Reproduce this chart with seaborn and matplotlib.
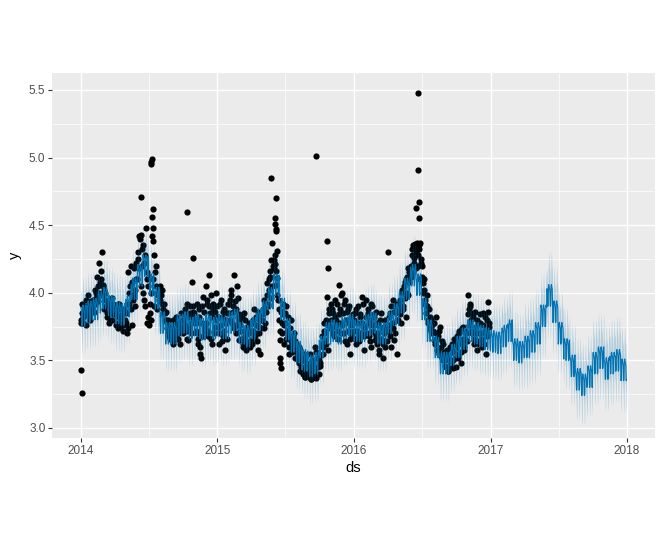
import numpy as np
import pandas as pd
import matplotlib
matplotlib.use("Agg")
import matplotlib.pyplot as plt
import matplotlib.dates as mdates
from matplotlib.ticker import MultipleLocator, FixedLocator
import seaborn as sns

# ---------------- data ----------------
obs_month_starts = pd.date_range("2014-01-01", "2016-12-01", freq="MS")
obs_day_offsets_a = [0, 3, 6, 9, 12, 15, 18, 21, 24, 27]
obs_day_offsets_b = [1, 4, 7, 10, 13, 16, 19, 22, 25, 28]
obs_values_a = [
    [3.80, 3.85, 3.78, 3.90, 3.84, 3.95, 3.88, 3.82, 3.92, 3.86],  # 2014-01
    [3.88, 3.95, 3.92, 4.00, 3.98, 4.05, 4.22, 4.08, 4.10, 4.30],
    [4.05, 4.02, 3.95, 3.90, 3.85, 3.92, 3.80, 3.88, 3.96, 3.84],
    [3.90, 3.85, 3.78, 3.92, 3.82, 3.75, 3.88, 3.80, 3.76, 3.86],
    [3.85, 3.70, 4.15, 3.92, 4.05, 4.20, 3.76, 3.95, 4.02, 4.10],
    [4.10, 4.25, 4.42, 4.43, 4.20, 4.35, 3.95, 4.28, 4.48, 4.10],
    [4.05, 3.92, 3.80, 4.56, 4.62, 4.28, 4.15, 4.05, 4.00, 3.95],
    [4.05, 3.98, 3.92, 3.88, 3.85, 3.80, 3.78, 3.72, 3.70, 3.66],
    [3.68, 3.62, 3.75, 3.70, 3.82, 3.72, 3.66, 3.78, 3.85, 3.74],
    [3.80, 3.75, 3.88, 3.72, 3.92, 3.65, 3.85, 3.78, 4.08, 3.90],
    [3.85, 3.78, 3.70, 3.62, 3.88, 3.55, 3.52, 3.90, 3.97, 3.75],
    [4.05, 3.92, 3.68, 4.13, 3.85, 3.98, 3.62, 3.88, 3.75, 4.00],
    [3.90, 3.75, 3.62, 3.95, 3.82, 3.68, 3.88, 3.58, 3.78, 3.85],  # 2015-01
    [3.85, 3.95, 4.02, 3.78, 3.90, 4.13, 3.70, 4.05, 3.82, 3.65],
    [3.80, 3.72, 3.65, 3.60, 3.85, 3.68, 3.58, 3.75, 3.62, 3.70],
    [3.65, 3.78, 3.72, 3.88, 3.68, 3.82, 3.58, 3.75, 3.55, 3.85],
    [3.80, 3.88, 3.95, 3.78, 4.07, 3.92, 4.10, 4.16, 4.24, 4.05],
    [4.24, 4.21, 4.16, 4.11, 3.95, 3.80, 3.65, 3.78, 3.92, 3.62],
    [3.85, 3.90, 3.72, 3.68, 3.55, 3.80, 3.62, 3.58, 3.70, 3.52],
    [3.62, 3.55, 3.48, 3.58, 3.45, 3.52, 3.40, 3.55, 3.38, 3.46],
    [3.42, 3.38, 3.55, 3.36, 3.48, 3.40, 3.60, 3.37, 3.52, 3.45],
    [3.40, 3.48, 3.62, 3.55, 3.72, 3.65, 3.80, 3.97, 3.58, 3.85],
    [3.92, 3.75, 3.85, 3.68, 3.95, 3.80, 3.72, 4.06, 3.88, 3.70],
    [4.00, 3.85, 3.70, 3.95, 3.62, 3.88, 3.78, 3.55, 3.82, 3.68],
    [3.72, 3.85, 3.62, 3.78, 3.90, 3.68, 3.82, 3.97, 3.75, 3.58],  # 2016-01
    [3.75, 3.95, 3.85, 3.68, 3.80, 3.60, 3.90, 3.72, 3.82, 3.65],
    [3.78, 3.62, 3.70, 3.55, 3.85, 3.65, 3.52, 3.75, 3.60, 3.72],
    [4.30, 3.72, 3.85, 3.60, 3.78, 3.95, 3.65, 3.88, 3.55, 3.80],
    [3.85, 3.95, 3.78, 4.02, 3.90, 4.08, 3.82, 4.12, 3.98, 4.15],
    [4.12, 4.28, 4.35, 4.22, 4.36, 4.30, 4.37, 4.20, 4.35, 4.25],
    [4.20, 4.07, 4.02, 3.95, 3.85, 3.90, 3.78, 3.82, 3.72, 3.76],
    [3.72, 3.65, 3.82, 3.58, 3.68, 3.55, 3.75, 3.60, 3.52, 3.62],
    [3.50, 3.45, 3.58, 3.42, 3.55, 3.48, 3.62, 3.44, 3.66, 3.52],
    [3.45, 3.68, 3.55, 3.72, 3.48, 3.62, 3.75, 3.58, 3.66, 3.70],
    [3.98, 3.88, 3.92, 3.80, 3.70, 3.85, 3.62, 3.75, 3.58, 3.78],
    [3.62, 3.78, 3.70, 3.60, 3.85, 3.72, 3.55, 3.80, 3.93, 3.75],
]
obs_values_b = [
    [3.78, 3.92, 3.82, 3.87, 3.76, 3.90, 3.98, 3.84, 3.80, 3.94],  # 2014-01
    [3.92, 3.86, 4.02, 3.96, 4.12, 3.94, 4.00, 4.16, 3.98, 4.06],
    [3.98, 3.88, 4.00, 3.82, 3.94, 3.78, 3.86, 3.90, 3.80, 3.92],
    [3.84, 3.76, 3.88, 3.74, 3.92, 3.78, 3.84, 3.72, 3.88, 3.80],
    [3.78, 3.92, 3.74, 4.00, 3.88, 4.08, 3.98, 4.18, 3.90, 4.22],
    [4.30, 4.18, 4.40, 4.05, 4.32, 4.00, 4.22, 3.90, 4.15, 3.82],
    [4.12, 3.85, 4.00, 4.42, 4.10, 3.90, 4.20, 3.88, 3.98, 4.02],
    [3.95, 4.02, 3.85, 3.92, 3.80, 3.86, 3.74, 3.80, 3.68, 3.75],
    [3.72, 3.80, 3.64, 3.76, 3.68, 3.78, 3.70, 3.62, 3.74, 3.80],
    [3.70, 3.84, 3.76, 3.66, 3.82, 3.74, 3.90, 3.70, 3.82, 3.86],
    [3.80, 3.72, 3.92, 3.66, 3.82, 3.60, 3.78, 3.68, 3.86, 3.72],
    [3.78, 3.95, 3.72, 3.90, 3.66, 3.82, 3.92, 3.70, 3.86, 3.80],
    [3.82, 3.70, 3.92, 3.76, 3.64, 3.86, 3.72, 3.80, 3.66, 3.92],  # 2015-01
    [3.92, 3.80, 3.98, 3.86, 3.74, 3.94, 3.88, 3.76, 3.96, 3.84],
    [3.76, 3.66, 3.82, 3.62, 3.72, 3.80, 3.64, 3.70, 3.78, 3.60],
    [3.72, 3.62, 3.80, 3.70, 3.76, 3.64, 3.86, 3.70, 3.80, 3.74],
    [3.84, 3.74, 3.92, 3.86, 3.98, 3.90, 4.02, 4.12, 3.96, 4.20],
    [4.18, 4.28, 4.06, 3.98, 3.88, 3.72, 3.86, 3.70, 3.84, 3.76],
    [3.78, 3.66, 3.82, 3.60, 3.74, 3.64, 3.56, 3.68, 3.60, 3.64],
    [3.56, 3.50, 3.60, 3.42, 3.54, 3.44, 3.50, 3.38, 3.48, 3.42],
    [3.40, 3.46, 3.36, 3.50, 3.42, 3.38, 3.44, 3.56, 3.40, 3.50],
    [3.46, 3.54, 3.68, 3.60, 3.78, 3.70, 3.62, 3.76, 3.88, 3.74],
    [3.80, 3.88, 3.70, 3.82, 3.76, 3.92, 3.66, 3.84, 3.78, 3.98],
    [3.76, 3.92, 3.64, 3.80, 3.86, 3.72, 3.90, 3.66, 3.76, 3.84],
    [3.80, 3.66, 3.88, 3.72, 3.64, 3.84, 3.70, 3.78, 3.92, 3.68],  # 2016-01
    [3.82, 3.70, 3.88, 3.78, 3.64, 3.92, 3.76, 3.84, 3.70, 3.86],
    [3.68, 3.76, 3.58, 3.80, 3.66, 3.74, 3.62, 3.70, 3.80, 3.64],
    [3.76, 3.82, 3.68, 3.90, 3.74, 3.86, 3.70, 3.92, 3.80, 3.88],
    [3.92, 3.84, 4.00, 3.88, 4.05, 3.96, 4.10, 4.00, 4.18, 4.08],
    [4.20, 4.32, 4.15, 4.26, 4.34, 4.18, 4.28, 4.32, 4.10, 4.22],
    [4.12, 4.00, 4.10, 3.92, 3.98, 3.80, 3.88, 3.74, 3.80, 3.70],
    [3.78, 3.62, 3.70, 3.66, 3.58, 3.72, 3.54, 3.64, 3.50, 3.56],
    [3.46, 3.54, 3.42, 3.50, 3.60, 3.46, 3.56, 3.50, 3.58, 3.62],
    [3.60, 3.52, 3.70, 3.64, 3.56, 3.74, 3.66, 3.60, 3.72, 3.64],
    [3.84, 3.76, 3.90, 3.72, 3.82, 3.66, 3.86, 3.70, 3.80, 3.64],
    [3.70, 3.84, 3.66, 3.76, 3.62, 3.82, 3.72, 3.68, 3.86, 3.78],
]
extra_dates = [
    "2014-01-02", "2014-01-03", "2014-06-12", "2014-06-27", "2014-07-02",
    "2014-07-08", "2014-07-09", "2014-07-10", "2014-07-12", "2014-07-14",
    "2014-10-11", "2014-10-29", "2015-05-26", "2015-05-28", "2015-06-04",
    "2015-06-05", "2015-06-06", "2015-06-07", "2015-06-08", "2015-06-10",
    "2015-06-18", "2015-06-19", "2015-06-20", "2015-09-21", "2015-10-22",
    "2015-10-25", "2016-06-15", "2016-06-17", "2016-06-20", "2016-06-21",
    "2016-06-23", "2016-06-24", "2016-06-26",
]
extra_values = [
    3.43, 3.26, 4.71, 3.78, 3.76,
    4.95, 4.97, 4.99, 4.48, 4.38,
    4.60, 4.26, 4.85, 4.37, 4.55,
    4.51, 4.47, 4.70, 4.46, 4.31,
    3.52, 3.48, 3.44, 5.01, 4.38,
    4.18, 4.36, 4.63, 5.48, 4.91,
    4.67, 4.55, 4.37,
]

# forecast trend level per half month (1st-15th, 16th-end), 2014-2017
trend_halfmonth = [
    3.85, 3.88, 3.90, 3.95, 3.98, 3.92, 3.87, 3.86, 3.92, 4.05, 4.15, 4.22,
    4.08, 3.98, 3.80, 3.72, 3.72, 3.78, 3.80, 3.76, 3.78, 3.75, 3.78, 3.76,
    3.78, 3.76, 3.80, 3.82, 3.72, 3.70, 3.76, 3.82, 3.88, 3.98, 4.08, 3.90,
    3.75, 3.66, 3.58, 3.52, 3.48, 3.50, 3.62, 3.72, 3.74, 3.72, 3.76, 3.78,
    3.74, 3.74, 3.78, 3.80, 3.72, 3.72, 3.80, 3.86, 3.95, 4.05, 4.15, 4.08,
    3.90, 3.74, 3.62, 3.50, 3.50, 3.56, 3.62, 3.68, 3.74, 3.72, 3.70, 3.68,
    3.66, 3.65, 3.70, 3.74, 3.60, 3.58, 3.62, 3.66, 3.72, 3.85, 4.00, 3.88,
    3.72, 3.60, 3.48, 3.38, 3.34, 3.40, 3.50, 3.54, 3.46, 3.50, 3.52, 3.45,
]
weekly_effect = [0.05, 0.06, 0.04, 0.03, 0.01, -0.10, -0.09]   # Mon..Sun
band_width_quarter = [0.13] * 12 + [0.13, 0.15, 0.14, 0.15]
band_upper_mult = [1.4, 1.7, 1.1, 1.0, 1.0, 0.9, 1.2]
band_lower_mult = [1.0, 0.9, 1.0, 1.1, 1.3, 1.6, 1.4]

# ---------------- tables ----------------
obs_dates = ([m + pd.Timedelta(days=d) for m in obs_month_starts for d in obs_day_offsets_a]
             + [m + pd.Timedelta(days=d) for m in obs_month_starts for d in obs_day_offsets_b])
obs_y = [v for row in obs_values_a for v in row] + [v for row in obs_values_b for v in row]
obs = pd.DataFrame({"ds": obs_dates + list(pd.to_datetime(extra_dates)),
                    "y": obs_y + extra_values})

fc = pd.DataFrame({"ds": pd.date_range("2014-01-01", "2017-12-31", freq="D")})
yr = fc["ds"].dt.year - 2014
mo = fc["ds"].dt.month - 1
half = (fc["ds"].dt.day >= 16).astype(int)
dow = fc["ds"].dt.dayofweek
trend = np.array(trend_halfmonth)[yr * 24 + mo * 2 + half]
fc["yhat"] = trend + np.array(weekly_effect)[dow]
w = np.array(band_width_quarter)[yr * 4 + mo // 3]
fc["upper"] = fc["yhat"] + w * np.array(band_upper_mult)[dow]
fc["lower"] = fc["yhat"] - w * np.array(band_lower_mult)[dow]

# ---------------- style ----------------
sns.set_theme(style="darkgrid", rc={
    "axes.facecolor": "#EBEBEB",
    "grid.color": "white",
    "axes.edgecolor": "#EBEBEB",
    "axes.linewidth": 0,
})
plt.rcParams["font.family"] = ["Liberation Sans", "DejaVu Sans"]

fig = plt.figure(figsize=(6.63, 5.49), dpi=100)
ax = fig.add_axes([52 / 663, (549 - 438) / 549, 603 / 663, 365 / 549])

sns.scatterplot(data=obs, x="ds", y="y", ax=ax, color="black", s=20,
                linewidth=0, zorder=2)
sns.lineplot(data=fc, x="ds", y="yhat", ax=ax, color="#0072B2",
             linewidth=0.8, estimator=None, zorder=3)
ax.fill_between(fc["ds"], fc["lower"], fc["upper"], color="#0072B2",
                alpha=0.24, linewidth=0, zorder=4)

ax.set_xlim(pd.Timestamp("2013-10-16"), pd.Timestamp("2018-03-17"))
ax.set_ylim(2.926, 5.625)

years = [pd.Timestamp(f"{y}-01-01") for y in range(2014, 2019)]
mids = [pd.Timestamp(f"{y}-07-02") for y in range(2013, 2018)]
ax.xaxis.set_major_locator(FixedLocator(mdates.date2num(years)))
ax.xaxis.set_minor_locator(FixedLocator(mdates.date2num(mids)))
ax.xaxis.set_major_formatter(mdates.DateFormatter("%Y"))
ax.yaxis.set_major_locator(MultipleLocator(0.5))
ax.yaxis.set_minor_locator(MultipleLocator(0.25))
ax.yaxis.set_major_formatter(matplotlib.ticker.FormatStrFormatter("%.1f"))

ax.grid(which="major", color="white", linewidth=1.0)
ax.grid(which="minor", color="white", linewidth=0.5)
ax.tick_params(which="major", direction="out", length=2.7, width=0.8,
               color="#333333", labelcolor="#4D4D4D", labelsize=8.5,
               bottom=True, left=True, pad=2)
ax.tick_params(which="minor", length=0, bottom=False, left=False)
for s in ax.spines.values():
    s.set_visible(False)

ax.set_xlabel("ds", fontsize=10.5, color="black", labelpad=3)
ax.set_ylabel("y", fontsize=10.5, color="black", labelpad=5)

fig.savefig("out.png", dpi=100, facecolor="white")
